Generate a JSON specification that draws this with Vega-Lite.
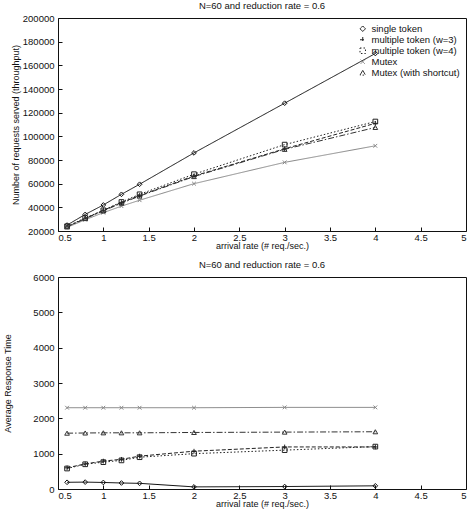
{
  "$schema": "https://vega.github.io/schema/vega-lite/v6.json",
  "padding": {"left": 3, "top": 0, "right": 9, "bottom": 1},
  "spacing": 8,
  "config": {
    "font": "Liberation Sans",
    "view": {"stroke": "#111", "strokeWidth": 1},
    "title": {"fontSize": 9.5, "fontWeight": "normal", "color": "#111", "offset": 3},
    "axis": {
      "grid": false, "domain": false, "tickColor": "#111", "tickSize": -4,
      "labelPadding": 8, "labelFontSize": 9.5, "labelColor": "#111",
      "titleFontSize": 9, "titleFontWeight": "normal", "titleColor": "#111"
    },
    "legend": {
      "orient": "top-right", "title": null, "labelFontSize": 9.5, "labelColor": "#111",
      "offset": 6, "rowPadding": 0, "symbolSize": 30, "symbolStrokeWidth": 1
    }
  },
  "datasets": {
    "throughput": [
      {"rate": 0.6, "series": "single token", "value": 25000},
      {"rate": 0.8, "series": "single token", "value": 34000},
      {"rate": 1.0, "series": "single token", "value": 42000},
      {"rate": 1.2, "series": "single token", "value": 51000},
      {"rate": 1.4, "series": "single token", "value": 59500},
      {"rate": 2, "series": "single token", "value": 86000},
      {"rate": 3, "series": "single token", "value": 128000},
      {"rate": 4, "series": "single token", "value": 170000},
      {"rate": 0.6, "series": "multiple token (w=3)", "value": 23500},
      {"rate": 0.8, "series": "multiple token (w=3)", "value": 30500},
      {"rate": 1.0, "series": "multiple token (w=3)", "value": 37500},
      {"rate": 1.2, "series": "multiple token (w=3)", "value": 44000},
      {"rate": 1.4, "series": "multiple token (w=3)", "value": 50000},
      {"rate": 2, "series": "multiple token (w=3)", "value": 66500},
      {"rate": 3, "series": "multiple token (w=3)", "value": 89500},
      {"rate": 4, "series": "multiple token (w=3)", "value": 111000},
      {"rate": 0.6, "series": "multiple token (w=4)", "value": 24000},
      {"rate": 0.8, "series": "multiple token (w=4)", "value": 31000},
      {"rate": 1.0, "series": "multiple token (w=4)", "value": 37500},
      {"rate": 1.2, "series": "multiple token (w=4)", "value": 44500},
      {"rate": 1.4, "series": "multiple token (w=4)", "value": 51000},
      {"rate": 2, "series": "multiple token (w=4)", "value": 68000},
      {"rate": 3, "series": "multiple token (w=4)", "value": 93000},
      {"rate": 4, "series": "multiple token (w=4)", "value": 112500},
      {"rate": 0.6, "series": "Mutex", "value": 23000},
      {"rate": 0.8, "series": "Mutex", "value": 29500},
      {"rate": 1.0, "series": "Mutex", "value": 35500},
      {"rate": 1.2, "series": "Mutex", "value": 41000},
      {"rate": 1.4, "series": "Mutex", "value": 46000},
      {"rate": 2, "series": "Mutex", "value": 60000},
      {"rate": 3, "series": "Mutex", "value": 78000},
      {"rate": 4, "series": "Mutex", "value": 92000},
      {"rate": 0.6, "series": "Mutex (with shortcut)", "value": 23500},
      {"rate": 0.8, "series": "Mutex (with shortcut)", "value": 30500},
      {"rate": 1.0, "series": "Mutex (with shortcut)", "value": 37000},
      {"rate": 1.2, "series": "Mutex (with shortcut)", "value": 43500},
      {"rate": 1.4, "series": "Mutex (with shortcut)", "value": 49500},
      {"rate": 2, "series": "Mutex (with shortcut)", "value": 66000},
      {"rate": 3, "series": "Mutex (with shortcut)", "value": 89000},
      {"rate": 4, "series": "Mutex (with shortcut)", "value": 107500}
    ],
    "response": [
      {"rate": 0.6, "series": "single token", "value": 190},
      {"rate": 0.8, "series": "single token", "value": 195},
      {"rate": 1.0, "series": "single token", "value": 185},
      {"rate": 1.2, "series": "single token", "value": 170},
      {"rate": 1.4, "series": "single token", "value": 160},
      {"rate": 2, "series": "single token", "value": 60},
      {"rate": 3, "series": "single token", "value": 70},
      {"rate": 4, "series": "single token", "value": 90},
      {"rate": 0.6, "series": "multiple token (w=3)", "value": 600},
      {"rate": 0.8, "series": "multiple token (w=3)", "value": 710},
      {"rate": 1.0, "series": "multiple token (w=3)", "value": 790},
      {"rate": 1.2, "series": "multiple token (w=3)", "value": 840},
      {"rate": 1.4, "series": "multiple token (w=3)", "value": 930},
      {"rate": 2, "series": "multiple token (w=3)", "value": 1070},
      {"rate": 3, "series": "multiple token (w=3)", "value": 1190},
      {"rate": 4, "series": "multiple token (w=3)", "value": 1190},
      {"rate": 0.6, "series": "multiple token (w=4)", "value": 580},
      {"rate": 0.8, "series": "multiple token (w=4)", "value": 700},
      {"rate": 1.0, "series": "multiple token (w=4)", "value": 760},
      {"rate": 1.2, "series": "multiple token (w=4)", "value": 810},
      {"rate": 1.4, "series": "multiple token (w=4)", "value": 900},
      {"rate": 2, "series": "multiple token (w=4)", "value": 1000},
      {"rate": 3, "series": "multiple token (w=4)", "value": 1100},
      {"rate": 4, "series": "multiple token (w=4)", "value": 1200},
      {"rate": 0.6, "series": "Mutex", "value": 2300},
      {"rate": 0.8, "series": "Mutex", "value": 2300},
      {"rate": 1.0, "series": "Mutex", "value": 2300},
      {"rate": 1.2, "series": "Mutex", "value": 2300},
      {"rate": 1.4, "series": "Mutex", "value": 2300},
      {"rate": 2, "series": "Mutex", "value": 2300},
      {"rate": 3, "series": "Mutex", "value": 2310},
      {"rate": 4, "series": "Mutex", "value": 2310},
      {"rate": 0.6, "series": "Mutex (with shortcut)", "value": 1580},
      {"rate": 0.8, "series": "Mutex (with shortcut)", "value": 1585},
      {"rate": 1.0, "series": "Mutex (with shortcut)", "value": 1590},
      {"rate": 1.2, "series": "Mutex (with shortcut)", "value": 1590},
      {"rate": 1.4, "series": "Mutex (with shortcut)", "value": 1590},
      {"rate": 2, "series": "Mutex (with shortcut)", "value": 1600},
      {"rate": 3, "series": "Mutex (with shortcut)", "value": 1610},
      {"rate": 4, "series": "Mutex (with shortcut)", "value": 1620}
    ]
  },
  "vconcat": [
    {
      "title": "N=60 and reduction rate = 0.6",
      "width": 408,
      "height": 213,
      "data": {"name": "throughput"},
      "encoding": {
        "x": {"field": "rate", "type": "quantitative", "title": "arrival rate (# req./sec.)",
              "scale": {"domain": [0.5, 5], "nice": false},
              "axis": {"values": [0.5, 1, 1.5, 2, 2.5, 3, 3.5, 4, 4.5, 5], "format": "~g", "labelPadding": 5, "titlePadding": 0}},
        "y": {"field": "value", "type": "quantitative", "title": "Number of requests served (throughput)",
              "scale": {"domain": [20000, 200000], "nice": false, "zero": false},
              "axis": {"values": [20000, 40000, 60000, 80000, 100000, 120000, 140000, 160000, 180000, 200000], "format": "d", "titlePadding": 2}},
        "color": {"field": "series", "type": "nominal",
                  "scale": {"domain": ["single token", "multiple token (w=3)", "multiple token (w=4)", "Mutex", "Mutex (with shortcut)"],
                            "range": ["#111", "#222", "#222", "#888", "#333"]}}
      },
      "layer": [
        {
          "mark": {"type": "line", "strokeWidth": 1},
          "encoding": {
            "strokeDash": {"field": "series", "type": "nominal",
                           "scale": {"domain": ["single token", "multiple token (w=3)", "multiple token (w=4)", "Mutex", "Mutex (with shortcut)"],
                                     "range": [[1, 0], [4, 2], [1.5, 2], [1, 0], [6, 2, 1.5, 2]]}}
          }
        },
        {
          "mark": {"type": "point", "filled": false, "size": 22, "strokeWidth": 1, "opacity": 1},
          "encoding": {
            "shape": {"field": "series", "type": "nominal",
                      "scale": {"domain": ["single token", "multiple token (w=3)", "multiple token (w=4)", "Mutex", "Mutex (with shortcut)"],
                                "range": ["diamond", "M-1,0L1,0M0,-1L0,1", "square", "M-0.8,-0.8L0.8,0.8M0.8,-0.8L-0.8,0.8", "triangle-up"]}}
          }
        }
      ]
    },
    {
      "title": "N=60 and reduction rate = 0.6",
      "width": 408,
      "height": 212,
      "data": {"name": "response"},
      "encoding": {
        "x": {"field": "rate", "type": "quantitative", "title": "arrival rate (# req./sec.)",
              "scale": {"domain": [0.5, 5], "nice": false},
              "axis": {"values": [0.5, 1, 1.5, 2, 2.5, 3, 3.5, 4, 4.5, 5], "format": "~g", "labelPadding": 5, "titlePadding": 0}},
        "y": {"field": "value", "type": "quantitative", "title": "Average Response Time",
              "scale": {"domain": [0, 6000], "nice": false},
              "axis": {"values": [0, 1000, 2000, 3000, 4000, 5000, 6000], "format": "d", "titlePadding": 20}},
        "color": {"field": "series", "type": "nominal",
                  "scale": {"domain": ["single token", "multiple token (w=3)", "multiple token (w=4)", "Mutex", "Mutex (with shortcut)"],
                            "range": ["#111", "#222", "#222", "#888", "#333"]}}
      },
      "layer": [
        {
          "mark": {"type": "line", "strokeWidth": 1},
          "encoding": {
            "strokeDash": {"field": "series", "type": "nominal",
                           "scale": {"domain": ["single token", "multiple token (w=3)", "multiple token (w=4)", "Mutex", "Mutex (with shortcut)"],
                                     "range": [[1, 0], [4, 2], [1.5, 2], [1, 0], [6, 2, 1.5, 2]]}}
          }
        },
        {
          "mark": {"type": "point", "filled": false, "size": 22, "strokeWidth": 1, "opacity": 1},
          "encoding": {
            "shape": {"field": "series", "type": "nominal",
                      "scale": {"domain": ["single token", "multiple token (w=3)", "multiple token (w=4)", "Mutex", "Mutex (with shortcut)"],
                                "range": ["diamond", "M-1,0L1,0M0,-1L0,1", "square", "M-0.8,-0.8L0.8,0.8M0.8,-0.8L-0.8,0.8", "triangle-up"]}}
          }
        }
      ]
    }
  ],
  "resolve": {"scale": {"y": "independent"}}
}
